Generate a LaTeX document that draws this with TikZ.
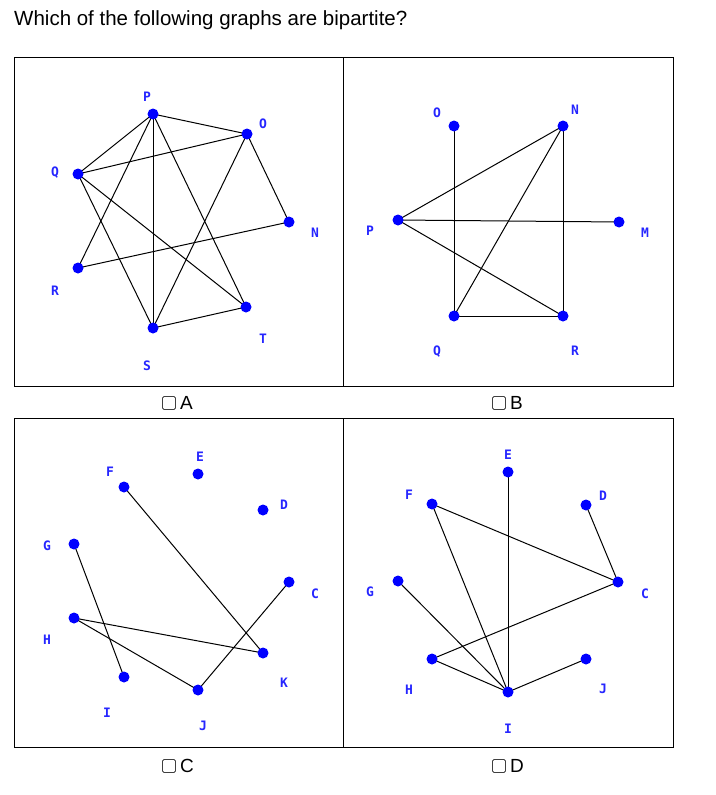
\documentclass[tikz,border=0pt]{standalone}
\usepackage{fontspec}
\setmainfont{Liberation Sans}
\newfontfamily\lblfont{DejaVu Sans Mono}
\begin{document}
\begin{tikzpicture}[x=1pt,y=-1pt,
  v/.style={circle,fill=blue,inner sep=0pt,minimum size=9pt},
  lb/.style={text=blue!85!white,font=\lblfont\bfseries\fontsize{13}{13}\selectfont,inner sep=0pt},
  e/.style={draw=black,line width=1pt},
  panel/.style={draw=black,line width=1pt},
  cb/.style={draw=black!75,line width=0.8pt,minimum size=13pt,inner sep=0pt,rounded corners=1.5pt},
  cbl/.style={font=\fontsize{19}{19}\selectfont,inner sep=0pt,anchor=west}]
\useasboundingbox (0,0) rectangle (715,795);
\fill[white] (0,0) rectangle (715,795);
\node[anchor=west,font=\fontsize{20.5}{21}\selectfont,inner sep=0pt] (title) at (14,20) {Which of the following graphs are bipartite?};
\draw[panel] (14,57) rectangle (343,386);
\draw[panel] (343,57) rectangle (673,386);
\draw[panel] (14,418) rectangle (343,747);
\draw[panel] (343,418) rectangle (673,747);
% Graph A
\node[v] (aP) at (153,114) {}; \node[v] (aO) at (247,134) {};
\node[v] (aQ) at (78,174) {};  \node[v] (aN) at (289,222) {};
\node[v] (aR) at (78,268) {};  \node[v] (aT) at (246,307) {};
\node[v] (aS) at (153,328) {};
\node[lb] (laP) at (147,97) {P}; \node[lb] (laO) at (263,124) {O};
\node[lb] (laQ) at (55,173) {Q}; \node[lb] (laN) at (315,233) {N};
\node[lb] (laR) at (55,291) {R}; \node[lb] (laT) at (263,339) {T};
\node[lb] (laS) at (147,366) {S};
\foreach \a/\b in {aP/aO,aP/aQ,aP/aS,aP/aR,aP/aT,aQ/aO,aQ/aS,aQ/aT,aO/aN,aO/aS,aN/aR,aS/aT}
  \draw[e] (\a.center) -- (\b.center);
% Graph B
\node[v] (bO) at (454,126) {}; \node[v] (bN) at (563,126) {};
\node[v] (bP) at (398,220) {}; \node[v] (bM) at (619,222) {};
\node[v] (bQ) at (454,316) {}; \node[v] (bR) at (563,316) {};
\node[lb] (lbO) at (437,113) {O}; \node[lb] (lbN) at (575,110) {N};
\node[lb] (lbP) at (370,231) {P}; \node[lb] (lbM) at (645,233) {M};
\node[lb] (lbQ) at (437,352) {Q}; \node[lb] (lbR) at (575,351) {R};
\foreach \a/\b in {bO/bQ,bN/bR,bN/bQ,bP/bN,bP/bM,bP/bR,bQ/bR}
  \draw[e] (\a.center) -- (\b.center);
% Graph C
\node[v] (cE) at (198,474) {}; \node[v] (cF) at (124,487) {};
\node[v] (cD) at (263,510) {}; \node[v] (cG) at (74,544) {};
\node[v] (cC) at (289,582) {}; \node[v] (cH) at (74,618) {};
\node[v] (cK) at (263,653) {}; \node[v] (cI) at (124,677) {};
\node[v] (cJ) at (198,690) {};
\node[lb] (lcE) at (200,457) {E}; \node[lb] (lcF) at (110,472) {F};
\node[lb] (lcD) at (284,505) {D}; \node[lb] (lcG) at (47,546) {G};
\node[lb] (lcC) at (315,594) {C}; \node[lb] (lcH) at (47,640) {H};
\node[lb] (lcK) at (284,683) {K}; \node[lb] (lcI) at (107,713) {I};
\node[lb] (lcJ) at (203,726) {J};
\foreach \a/\b in {cF/cK,cG/cI,cH/cK,cH/cJ,cJ/cC}
  \draw[e] (\a.center) -- (\b.center);
% Graph D
\node[v] (dE) at (508,472) {}; \node[v] (dF) at (432,504) {};
\node[v] (dD) at (586,505) {}; \node[v] (dG) at (398,581) {};
\node[v] (dC) at (618,582) {}; \node[v] (dH) at (432,659) {};
\node[v] (dJ) at (586,659) {}; \node[v] (dI) at (508,692) {};
\node[lb] (ldE) at (508,455) {E}; \node[lb] (ldF) at (409,495) {F};
\node[lb] (ldD) at (603,496) {D}; \node[lb] (ldG) at (370,592) {G};
\node[lb] (ldC) at (645,594) {C}; \node[lb] (ldH) at (409,690) {H};
\node[lb] (ldI) at (508,729) {I}; \node[lb] (ldJ) at (603,689) {J};
\foreach \a/\b in {dE/dI,dF/dI,dF/dC,dD/dC,dG/dI,dH/dC,dH/dI,dJ/dI}
  \draw[e] (\a.center) -- (\b.center);
% vertices on top
\foreach \n/\x/\y in {aP/153/114,aO/247/134,aQ/78/174,aN/289/222,aR/78/268,aT/246/307,aS/153/328,
  bO/454/126,bN/563/126,bP/398/220,bM/619/222,bQ/454/316,bR/563/316,
  cE/198/474,cF/124/487,cD/263/510,cG/74/544,cC/289/582,cH/74/618,cK/263/653,cI/124/677,cJ/198/690,
  dE/508/472,dF/432/504,dD/586/505,dG/398/581,dC/618/582,dH/432/659,dJ/586/659,dI/508/692}
  \fill[blue] (\x,\y) circle (5.5);
% checkboxes
\node[cb] (cbA) at (169,403) {}; \node[cbl] (tA) at (180,403) {A};
\node[cb] (cbB) at (499,403) {}; \node[cbl] (tB) at (510,403) {B};
\node[cb] (cbC) at (169,766) {}; \node[cbl] (tC) at (180,766) {C};
\node[cb] (cbD) at (499,766) {}; \node[cbl] (tD) at (510,766) {D};
\end{tikzpicture}
\end{document}
